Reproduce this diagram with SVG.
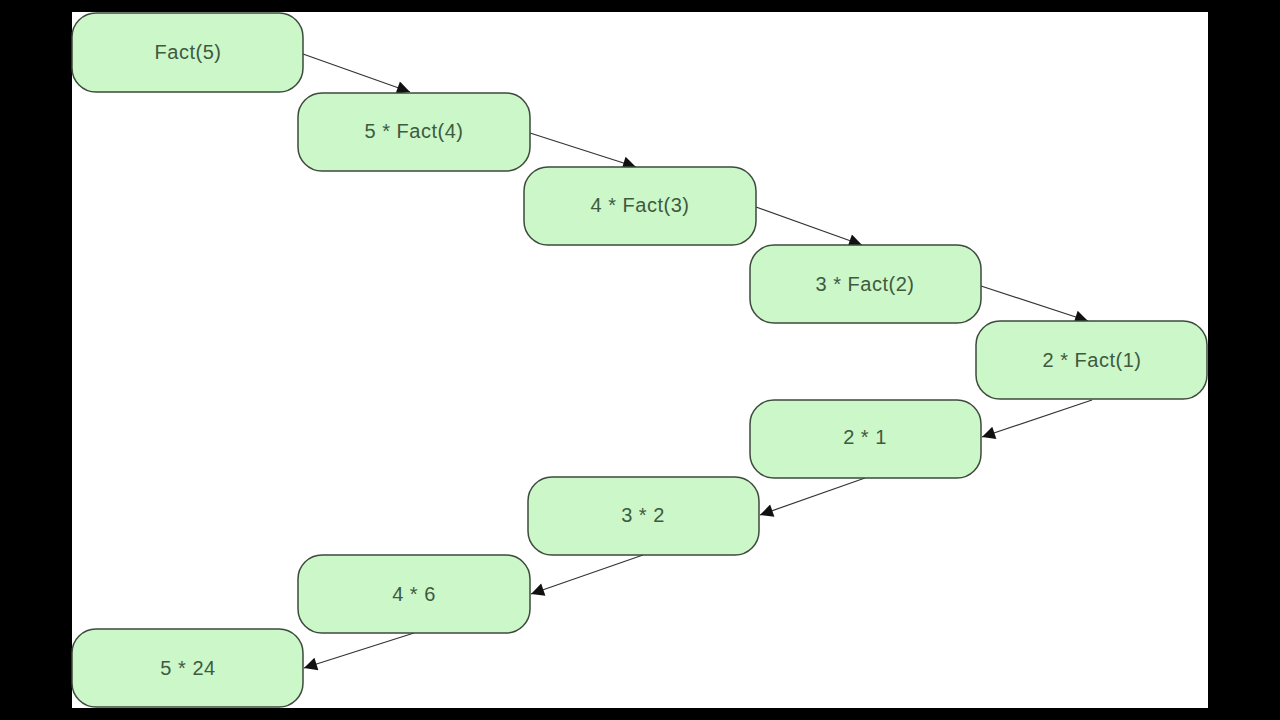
<svg xmlns="http://www.w3.org/2000/svg" width="1280" height="720" viewBox="0 0 1280 720">
<style>
.n rect{fill:#ccf7c9;stroke:#3d4a3d;stroke-width:1.5}
.n text{font-family:"Liberation Sans",Arial,sans-serif;font-size:20px;letter-spacing:0.5px;fill:#3f5a3f;text-anchor:middle;dominant-baseline:central}
.e line{stroke:#333;stroke-width:1.2;marker-end:url(#a)}
</style>
<defs><marker id="a" viewBox="0 0 10 10" refX="10" refY="5" markerWidth="28" markerHeight="13" markerUnits="userSpaceOnUse" orient="auto"><path d="M0,0L10,5L0,10z" fill="#111"/></marker></defs>
<rect width="1280" height="720" fill="#000"/>
<rect x="72" y="12" width="1136" height="696" fill="#fff"/>
<g class="e">
<line x1="303" y1="54" x2="410" y2="92"/>
<line x1="530" y1="133" x2="636" y2="167"/>
<line x1="756" y1="207" x2="862" y2="245"/>
<line x1="981" y1="286" x2="1088" y2="321"/>
<line x1="1092" y1="400" x2="982" y2="437"/>
<line x1="865" y1="478" x2="760" y2="515"/>
<line x1="643" y1="555" x2="531" y2="594"/>
<line x1="414" y1="633" x2="304" y2="668"/>
</g>
<g id="n1" class="n"><rect x="72" y="13" width="231" height="79" rx="24"/><text x="188" y="52">Fact(5)</text></g>
<g id="n2" class="n"><rect x="298" y="93" width="232" height="78" rx="24"/><text x="414" y="131">5 * Fact(4)</text></g>
<g id="n3" class="n"><rect x="524" y="167" width="232" height="78" rx="24"/><text x="640" y="205">4 * Fact(3)</text></g>
<g id="n4" class="n"><rect x="750" y="245" width="231" height="78" rx="24"/><text x="865" y="284">3 * Fact(2)</text></g>
<g id="n5" class="n"><rect x="976" y="321" width="231" height="78" rx="24"/><text x="1092" y="360">2 * Fact(1)</text></g>
<g id="n6" class="n"><rect x="750" y="400" width="231" height="78" rx="24"/><text x="865" y="437">2 * 1</text></g>
<g id="n7" class="n"><rect x="528" y="477" width="231" height="78" rx="24"/><text x="643" y="515">3 * 2</text></g>
<g id="n8" class="n"><rect x="298" y="555" width="232" height="78" rx="24"/><text x="414" y="594">4 * 6</text></g>
<g id="n9" class="n"><rect x="72" y="629" width="231" height="78" rx="24"/><text x="188" y="668">5 * 24</text></g>
</svg>
